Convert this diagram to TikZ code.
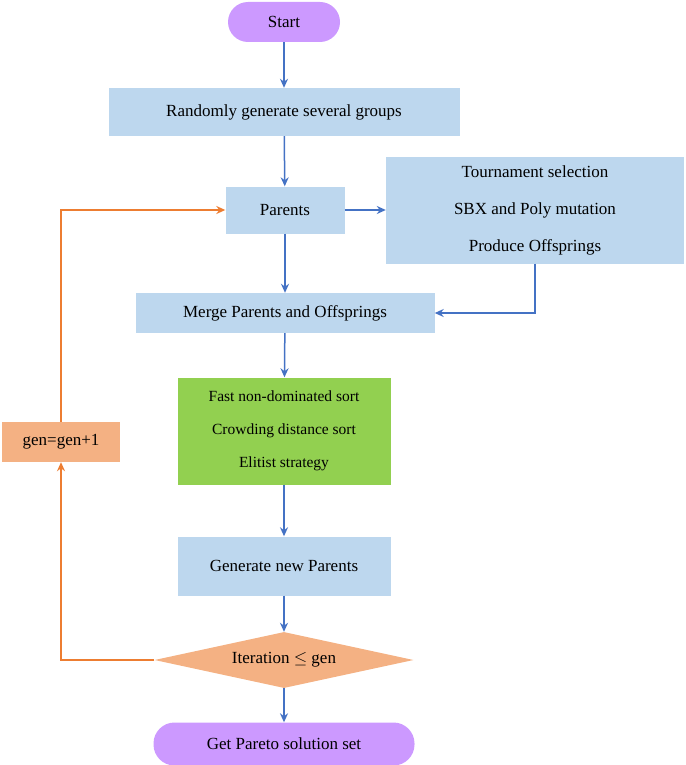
\documentclass[tikz,border=0pt]{standalone}
\usepackage{fontspec}
\setmainfont{Liberation Serif}
\usetikzlibrary{shapes.geometric,arrows.meta}
\definecolor{lb}{HTML}{BDD7EE}
\definecolor{vi}{HTML}{CC99FF}
\definecolor{gr}{HTML}{92D050}
\definecolor{or}{HTML}{F4B183}
\definecolor{ba}{HTML}{4472C4}
\definecolor{oa}{HTML}{ED7D31}
\begin{document}
\begin{tikzpicture}[x=1pt,y=-1pt,
 box/.style={fill=lb,draw=none,inner sep=0pt,font=\fontsize{17}{20}\selectfont,align=center},
 ba/.style={draw=ba,line width=1.5pt,-{Stealth[length=9pt,width=8pt]}},
 oa/.style={draw=oa,line width=1.5pt,-{Stealth[length=9pt,width=8pt]}}]
\useasboundingbox (0,0) rectangle (685,765);
\node[box,fill=vi,rounded corners=20pt,minimum width=112pt,minimum height=40pt] (start) at (284,22) {Start};
\node[box,minimum width=351pt,minimum height=48pt] (rand) at (284,112) {Randomly generate several groups};
\node[box,minimum width=119pt,minimum height=47pt] (par) at (285,210) {Parents};
\node[box,minimum width=298pt,minimum height=107pt,font=\fontsize{17}{37}\selectfont] (tour) at (535,210) {Tournament selection\\SBX and Poly mutation\\Produce Offsprings};
\node[box,minimum width=299pt,minimum height=40pt] (merge) at (285,313) {Merge Parents and Offsprings};
\node[box,fill=gr,minimum width=213pt,minimum height=107pt,font=\fontsize{15.5}{33}\selectfont] (green) at (284,431) {Fast non-dominated sort\\Crowding distance sort\\Elitist strategy};
\node[box,minimum width=213pt,minimum height=59pt] (gen) at (284,566) {Generate new Parents};
\node[diamond,fill=or,aspect=4.6,inner sep=0pt,minimum width=259pt,minimum height=56pt,font=\fontsize{17}{20}\selectfont] (it) at (284,660) {Iteration $\leq$ gen};
\node[box,fill=vi,rounded corners=21pt,minimum width=261pt,minimum height=43pt] (pareto) at (284,744) {Get Pareto solution set};
\node[box,fill=or,minimum width=118pt,minimum height=40pt] (inc) at (61,442) {gen=gen+1};
\draw[ba] (start) -- (rand);
\draw[ba] (rand) -- (par);
\draw[ba] (par) -- (merge);
\draw[ba] (merge) -- (green);
\draw[ba] (green) -- (gen);
\draw[ba] (gen) -- (it);
\draw[ba] (it) -- (pareto);
\draw[ba] (par) -- (tour);
\draw[ba] (tour.south) -- (tour.south |- merge) -- (merge);
\draw[oa] (it.west) -- (it.west -| inc) -- (inc);
\draw[oa] (inc) -- (inc |- par) -- (par);
\end{tikzpicture}
\end{document}
